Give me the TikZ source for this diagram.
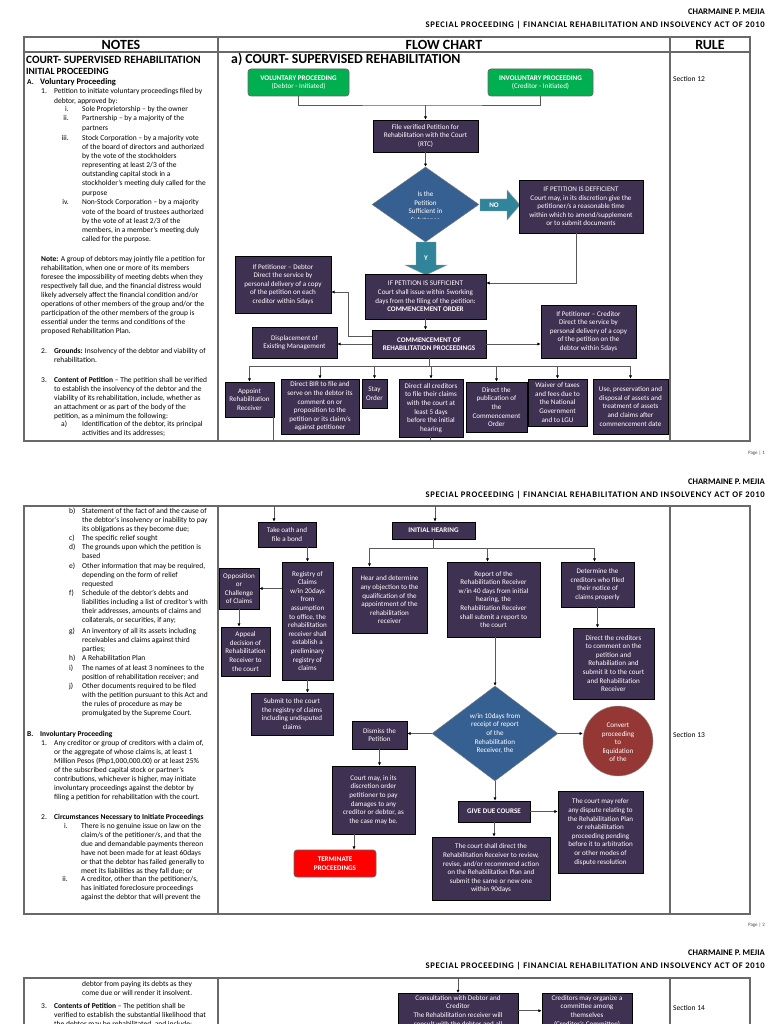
\documentclass[tikz,border=0pt]{standalone}
\usepackage{fontspec}
\setmainfont{Carlito}
\usetikzlibrary{arrows.meta,shapes.geometric}

\definecolor{boxpurple}{RGB}{63,49,81}
\definecolor{boxgreen}{RGB}{0,176,80}
\definecolor{diablue}{RGB}{55,96,146}
\definecolor{arrteal}{RGB}{49,133,155}
\definecolor{circred}{RGB}{149,55,53}
\definecolor{termred}{RGB}{255,0,0}
\definecolor{tablegray}{RGB}{105,105,105}

\newcommand{\ntf}{\fontsize{7.5}{9.1}\selectfont}
\newcommand{\bxf}{\fontsize{7.1}{8.6}\selectfont}

\tikzset{
  tline/.style={draw=tablegray, line width=1.3pt},
  pghead/.style={anchor=base east, inner sep=0pt, font=\bfseries\fontsize{8.6}{9}\selectfont},
  pgtitle/.style={pghead, font=\bfseries\fontsize{8.6}{9}\selectfont\addfontfeatures{LetterSpace=8}},
  pgnum/.style={anchor=base east, inner sep=0pt, font=\fontsize{5}{6}\selectfont, text=black!70},
  colhd/.style={inner sep=0pt, font=\bfseries\fontsize{14}{15}\selectfont},
  ntxt/.style={anchor=base west, inner sep=0pt, align=left, font=\ntf},
  nbold/.style={ntxt, font=\ntf\bfseries},
  rnum/.style={anchor=base east, inner sep=0pt, font=\ntf},
  ruletxt/.style={anchor=west, inner sep=0pt, font=\ntf},
  pbox/.style={draw=black, line width=0.7pt, fill=boxpurple, text=white,
    font=\bxf, align=center, inner sep=1pt},
  gbox/.style={pbox, fill=boxgreen, draw=black!60, rounded corners=3pt},
  rbox/.style={pbox, fill=termred, draw=black!60, rounded corners=3pt, font=\bxf\bfseries},
  dtxt/.style={text=white, font=\bxf, align=center, inner sep=0pt},
  dshape/.style={diamond, draw=black!50, fill=diablue, inner sep=0pt},
  wh/.style 2 args={minimum width=#1pt, minimum height=#2pt},
  conn/.style={draw=black!65, line width=0.9pt, -{Latex[length=3.2pt,width=3.2pt,color=black]}},
  link/.style={draw=black!65, line width=0.9pt},
}

\begin{document}
\begin{tikzpicture}[x=1pt, y=-1pt]
\useasboundingbox (0,0) rectangle (768,1024);
\fill[white] (0,0) rectangle (768,1024);

% ---------------- page 1 ----------------
\node[pghead] (au1) at (765,15) {CHARMAINE P. MEJIA};
\node[pgtitle] (ti1) at (765,28) {SPECIAL PROCEEDING | FINANCIAL REHABILITATION AND INSOLVENCY ACT OF 2010};
\node[pgnum] (pg1) at (765,454) {Page | 1};

\draw[tline] (24,37) rectangle (750,441);
\draw[tline] (24,52) -- (750,52);
\draw[tline] (218,37) -- (218,441);
\draw[tline] (670,37) -- (670,441);
\node[colhd] (hnotes) at (121,45) {NOTES};
\node[colhd] (hflow) at (444,45) {FLOW CHART};
\node[colhd] (hrule) at (710,45) {RULE};

% notes
\node[ntxt, font=\bfseries\fontsize{11.2}{12}\selectfont] (ncsr) at (26,64) {COURT- SUPERVISED REHABILITATION};
\node[ntxt, font=\bfseries\fontsize{9.5}{10}\selectfont] (nip) at (26,75) {INITIAL PROCEEDING};
\node[nbold] (nAl) at (27,85) {A.};
\node[nbold, font=\fontsize{8.5}{9}\selectfont\bfseries] (nA) at (40,85) {Voluntary Proceeding};
\node[ntxt] (n1l) at (41,94) {1.};
\node[ntxt] (n1) at (54,103.1) {Petition to initiate voluntary proceedings filed by\\debtor, approved by:};
\node[rnum] (nil) at (69,112) {i.};
\node[ntxt] (ni) at (82,112) {Sole Proprietorship -- by the owner};
\node[rnum] (niil) at (69,121) {ii.};
\node[ntxt] (nii) at (82,130.1) {Partnership -- by a majority of the\\partners};
\node[rnum] (niiil) at (69,140.5) {iii.};
\node[ntxt] (niii) at (82,195.1) {Stock Corporation -- by  a majority vote\\of the board of directors and authorized\\by the vote of the stockholders\\representing at least 2/3 of the\\outstanding capital stock in a\\stockholder's meeting duly called for the\\purpose};
\node[rnum] (nivl) at (69,205) {iv.};
\node[ntxt] (niv) at (82,241.4) {Non-Stock Corporation -- by a majority\\vote of the board of trustees authorized\\by the vote of at least 2/3 of the\\members, in a member's meeting duly\\called for the purpose.};
\node[ntxt] (nnote) at (41,333.8) {\textbf{Note:} A group of debtors may jointly file a petition for\\rehabilitation, when one or more of its members\\foresee the impossibility of meeting debts when they\\respectively fall due, and the financial distress would\\likely adversely affect the financial condition and/or\\operations of other members of the group and/or the\\participation of the other members of the group is\\essential under the terms and conditions of the\\proposed Rehabilitation Plan.};
\node[ntxt] (n2l) at (41,353) {2.};
\node[ntxt] (n2) at (54,362.1) {\textbf{Grounds:} Insolvency of the debtor and viability of\\rehabilitation.};
\node[ntxt] (n3l) at (41,382) {3.};
\node[ntxt] (n3) at (54,418.4) {\textbf{Content of Petition} -- The petition shall be verified\\to establish the insolvency of the debtor and the\\viability of its rehabilitation, include, whether as\\an attachment or as part of the body of the\\petition, as a minimum the following:};
\node[ntxt] (nal) at (61,426) {a)};
\node[ntxt] (na) at (82,435.1) {Identification of the debtor, its principal\\activities and its addresses;};

\node[ruletxt] (sec12) at (673,79) {Section 12};

% flow chart
\node[ntxt, font=\bfseries\fontsize{13.8}{14}\selectfont] (ftitle) at (231,64) {a) COURT- SUPERVISED REHABILITATION};
\node[gbox, wh={101}{27}] (vol) at (298.5,82.5) {\textbf{VOLUNTARY PROCEEDING}\\(Debtor - Initiated)};
\node[gbox, wh={105}{27}] (inv) at (540.5,82.5) {\textbf{INVOLUNTARY PROCEEDING}\\(Creditor - Initiated)};
\node[pbox, wh={105}{32}] (file) at (425.5,136) {File verified Petition for\\Rehabilitation with the Court\\(RTC)};
\node[dshape, wh={107}{75}] (dia1) at (425.5,204.5) {};
\begin{scope}
  \clip (375,184) rectangle (476,219);
  \node[dtxt] (dia1t) at (425.5,207) {Is the\\Petition\\Sufficient in\\Substance};
\end{scope}
\fill[arrteal, draw=black!40] (480,199) -- (507,199) -- (507,190) -- (520,205) -- (507,220) -- (507,211) -- (480,211) -- cycle;
\node[dtxt, font=\bxf\bfseries] (notag) at (494,205) {NO};
\node[pbox, wh={124}{53}] (defic) at (581,206.5) {IF PETITION IS DEFFICIENT\\Court may, in its discretion give the\\petitioner/s a reasonable time\\within which to amend/supplement\\or  to submit documents};
\fill[arrteal, draw=black!40] (416,242) -- (436,242) -- (436,265) -- (447,265) -- (426,275) -- (405,265) -- (416,265) -- cycle;
\node[dtxt, font=\bxf\bfseries] (ytag) at (426,258) {Y};
\node[pbox, wh={121}{45}] (suff) at (425.5,296.5) {IF PETITION IS SUFFICIENT\\Court shall issue within 5working\\days from the filing of the petition:\\\textbf{COMMENCEMENT ORDER}};
\node[pbox, wh={96}{57}] (debtor) at (283,284.5) {If Petitioner -- Debtor\\Direct the service by\\personal delivery of a copy\\of the petition on each\\creditor within 5days};
\node[pbox, wh={114}{28}, font=\bxf\bfseries] (comm) at (429,344) {COMMENCEMENT OF\\REHABILITATION PROCEEDINGS};
\node[pbox, wh={85}{31}] (displ) at (294.5,342.5) {Displacement of\\Existing Management};
\node[pbox, wh={95}{53}] (cred) at (588.5,331.5) {If Petitioner -- Creditor\\Direct the service by\\personal delivery of a copy\\of the petition on the\\debtor within 5days};

\node[pbox, wh={49}{35}] (b1) at (249.5,399.5) {Appoint\\Rehabilitation\\Receiver};
\node[pbox, wh={78}{55}] (b2) at (320,406.5) {Direct BIR to file and\\serve on the debtor its\\comment on or\\proposition to the\\petition or its claim/s\\against petitioner};
\node[pbox, wh={25}{29}] (b3) at (374.5,393.5) {Stay\\Order};
\node[pbox, wh={64}{58}] (b4) at (431,408) {Direct all creditors\\to file their claims\\with the court at\\least 5 days\\before the initial\\hearing};
\node[pbox, wh={61}{50}] (b5) at (496.5,407) {Direct the\\publication of\\the\\Commencement\\Order};
\node[pbox, wh={59}{47}] (b6) at (557.5,402.5) {Waiver of taxes\\and fees due to\\the National\\Government\\and to LGU};
\node[pbox, wh={75}{55}] (b7) at (630.5,406.5) {Use, preservation and\\disposal of assets and\\treatment of assets\\and claims after\\commencement date};

\coordinate (join1) at (425.5,105);
\draw[link] (vol.south) |- (join1) -| (inv.south);
\draw[conn] (join1) -- (file.north);
\draw[conn] (file.south) -- (dia1.north);
\draw[conn] ([xshift=-5pt]defic.south) |- ([yshift=13.5pt]suff.east);
\draw[conn] (suff.south) -- (suff.south |- comm.north);
\draw[conn] ([yshift=8pt]comm.west) -- ++(-23,0) |- ([yshift=-7.5pt]debtor.east);
\draw[conn] (comm.west) -- (comm.west -| displ.east);
\draw[conn] (comm.east) -- (comm.east -| cred.west);
\draw[link] (comm.south) -- ++(0,8) coordinate (bus1);
\draw[link] (bus1 -| b1.north) -- (bus1 -| b7.north);
\foreach \b in {b1,b2,b3,b4,b5,b6,b7}
  \draw[conn] (bus1 -| \b.north) -- (\b.north);
\coordinate (p1a) at (273,441);
\coordinate (p1b) at (430,441);
\draw[link] (p1a |- b1.south) -- (p1a);
\draw[link] (p1b |- b4.south) -- (p1b);

% ---------------- page 2 ----------------
\node[pghead] (au2) at (765,484) {CHARMAINE P. MEJIA};
\node[pgtitle] (ti2) at (765,497) {SPECIAL PROCEEDING | FINANCIAL REHABILITATION AND INSOLVENCY ACT OF 2010};
\node[pgnum] (pg2) at (765,926) {Page | 2};

\draw[tline] (24,506) rectangle (750,914);
\draw[tline] (218,506) -- (218,914);
\draw[tline] (670,506) -- (670,914);

% notes
\node[ntxt] (nbl) at (69,513) {b)};
\node[ntxt] (nb) at (82,531.2) {Statement of the fact of and the cause of\\the debtor's insolvency or inability to pay\\its obligations as they become due;};
\node[ntxt] (ncl) at (69,540.5) {c)};
\node[ntxt] (nc) at (82,540.5) {The specific relief sought};
\node[ntxt] (ndl) at (69,549.5) {d)};
\node[ntxt] (nd) at (82,558.6) {The grounds upon which the petition is\\based};
\node[ntxt] (nel) at (69,568) {e)};
\node[ntxt] (ne) at (82,586.2) {Other information that may be required,\\depending on the form of relief\\requested};
\node[ntxt] (nfl) at (69,595) {f)};
\node[ntxt] (nf) at (82,622.3) {Schedule of the debtor's debts and\\liabilities including a list of creditor's with\\their addresses, amounts of claims and\\collaterals, or securities, if any;};
\node[ntxt] (ngl) at (69,633) {g)};
\node[ntxt] (ng) at (82,651.2) {An inventory of all its assets including\\receivables and claims against third\\parties;};
\node[ntxt] (nhl) at (69,660) {h)};
\node[ntxt] (nh) at (82,660) {A Rehabilitation Plan};
\node[ntxt] (nil2) at (69,670) {i)};
\node[ntxt] (ni2) at (82,679.1) {The names of at least 3 nominees to the\\position of rehabilitation receiver; and};
\node[ntxt] (njl) at (69,688) {j)};
\node[ntxt] (nj) at (82,715.3) {Other documents required to be filed\\with the petition pursuant to this Act and\\the rules of procedure as may be\\promulgated by the Supreme Court.};
\node[nbold] (nBl) at (27,736) {B.};
\node[nbold] (nB) at (40,736) {Involuntary Proceeding};
\node[ntxt] (nB1l) at (41,745) {1.};
\node[ntxt] (nB1) at (54,799.6) {Any creditor or group of creditors with a claim of,\\or the aggregate of whose claims is, at least 1\\Million Pesos (Php1,000,000.00)  or at least 25\%\\of the subscribed capital stock or partner's\\contributions, whichever is higher, may initiate\\involuntary proceedings against the debtor by\\filing a petition for rehabilitation with the court.};
\node[ntxt] (nB2l) at (41,819) {2.};
\node[nbold] (nB2) at (54,819) {Circumstances Necessary to Initiate Proceedings};
\node[rnum] (nBil) at (68,828) {i.};
\node[ntxt] (nBi) at (81,873.5) {There is no genuine issue on law on the\\claim/s of the petitioner/s, and that the\\due and demandable payments thereon\\have not been made for at least 60days\\or that the debtor has failed generally to\\meet its liabilities as they fall due; or};
\node[rnum] (nBiil) at (68,881) {ii.};
\node[ntxt] (nBii) at (81,899.2) {A creditor, other than the petitioner/s,\\has initiated foreclosure proceedings\\against the debtor that will prevent the};

\node[ruletxt] (sec13) at (673,735) {Section 13};

% flow chart
\node[pbox, wh={58}{25}] (oath) at (287,534.5) {Take oath and\\file a bond};
\node[pbox, wh={83}{17}, font=\bxf\bfseries] (ih) at (433.5,530.5) {INITIAL HEARING};
\node[pbox, wh={51}{118}] (reg) at (307.5,621) {Registry of\\Claims\\w/in 20days\\from\\assumption\\to office, the\\rehabilitation\\receiver shall\\establish a\\preliminary\\registry of\\claims};
\node[pbox, wh={40}{41}] (opp) at (239,588.5) {Opposition\\or\\Challenge\\of Claims};
\node[pbox, wh={49}{49}] (appeal) at (245.5,651.5) {Appeal\\decision of\\Rehabilitation\\Receiver  to\\the court};
\node[pbox, wh={82}{42}] (submit) at (292,714) {Submit to the court\\the registry of claims\\including undisputed\\claims};
\node[pbox, wh={75}{66}] (hear) at (389.5,600) {Hear and determine\\any objection to the\\qualification of the\\appointment of the\\rehabilitation\\receiver};
\node[pbox, wh={93}{75}] (report) at (493.5,599.5) {Report of the\\Rehabilitation Receiver\\w/in 40 days from initial\\hearing, the\\Rehabilitation Receiver\\shall submit a report to\\the court};
\node[pbox, wh={73}{45}] (determ) at (597.5,584.5) {Determine the\\creditors who filed\\their notice of\\claims  properly};
\node[pbox, wh={81}{71}] (dircred) at (613.5,663.5) {Direct the creditors\\to comment on the\\petition and\\Rehabiliation and\\submit it to the court\\and Rehabilitation\\Receiver};
\node[dshape, wh={126}{95}] (dia2) at (495,733.5) {};
\node[dtxt] (dia2t) at (495,733.5) {w/in 10days from\\receipt of report\\of the\\Rehabilitation\\Receiver, the};
\node[pbox, wh={55}{28}] (dismiss) at (379.5,735) {Dismiss the\\Petition};
\node[circle, draw=black!40, fill=circred, inner sep=0pt, minimum size=70pt] (conv) at (618,741) {};
\begin{scope}
  \clip (583,706) rectangle (653,760);
  \node[dtxt] (convt) at (618,742.5) {Convert\\proceeding\\to\\liquidation\\of the};
\end{scope}
\node[pbox, wh={83}{68}] (courtmay) at (373.5,800) {Court may, in its\\discretion order\\petitioner to pay\\damages to any\\creditor or debtor, as\\the case may be.};
\node[rbox, wh={82}{27}] (term) at (335,863.5) {TERMINATE\\PROCEEDINGS};
\node[pbox, wh={72}{21}, font=\bxf\bfseries] (gdc) at (494,811.5) {GIVE DUE COURSE};
\node[pbox, wh={85}{82}] (refer) at (600.5,832) {The court may refer\\any dispute relating to\\the Rehabilitation Plan\\or rehabilitation\\proceeding pending\\before it to arbitration\\or other modes of\\dispute resolution};
\node[pbox, wh={118}{63}] (shall) at (491,868.5) {The court shall direct the\\Rehabilitation Receiver to review,\\revise, and/or recommend action\\on the Rehabilitation Plan and\\submit the same or new one\\within 90days};

\coordinate (p2a) at (274,506);
\coordinate (p2b) at (435,506);
\draw[conn] (p2a) -- (p2a |- oath.north);
\draw[conn] (p2b) -- (p2b |- ih.north);
\draw[conn] (reg.north |- oath.south) -- (reg.north);
\draw[conn] (reg.west |- opp.east) -- (opp.east);
\draw[conn] (opp.south) -- (opp.south |- appeal.north);
\draw[conn] (reg.south) -- (reg.south |- submit.north);
\draw[link] (ih.south) -- ++(0,9.5) coordinate (bus2);
\draw[conn] (bus2) -| ([xshift=-20pt]hear.north);
\draw[conn] (bus2) -| ([xshift=-6pt]report.north);
\draw[conn] (bus2) -| ([xshift=-3pt]determ.north);
\draw[conn] (determ.south) -- (determ.south |- dircred.north);
\draw[conn] (dia2.north |- report.south) -- (dia2.north);
\draw[conn] (dia2.west) -- (dia2.west -| dismiss.east);
\draw[conn] (dia2.east) -- (conv.west |- dia2.east);
\draw[conn] (dismiss.south) -- (dismiss.south |- courtmay.north);
\draw[conn] ([xshift=-19.5pt]courtmay.south) -- ([xshift=-19.5pt]courtmay.south |- term.north);
\draw[conn] (dia2.south) -- (dia2.south |- gdc.north);
\draw[conn] (gdc.east) -- (gdc.east -| refer.west);
\draw[conn] (gdc.south) -- (gdc.south |- shall.north);

% ---------------- page 3 ----------------
\node[pghead] (au3) at (765,955.5) {CHARMAINE P. MEJIA};
\node[pgtitle] (ti3) at (765,968.5) {SPECIAL PROCEEDING | FINANCIAL REHABILITATION AND INSOLVENCY ACT OF 2010};

\draw[tline] (24,1030) -- (24,978) -- (750,978) -- (750,1030);
\draw[tline] (218,978) -- (218,1030);
\draw[tline] (670,978) -- (670,1030);

\node[ntxt] (np3) at (82,995.1) {debtor from paying its debts as they\\come due or will render it insolvent.};
\node[ntxt] (nC3l) at (41,1008) {3.};
\node[ntxt] (nC3) at (54,1026.2) {\textbf{Contents of Petition} -- The petition shall be\\verified to establish the substantial likelihood that\\the debtor may be rehabilitated, and include:};

\node[ruletxt] (sec14) at (673,1008) {Section 14};

\node[pbox, anchor=north, minimum width=120pt, inner sep=2pt] (consult) at (458,993) {Consultation with Debtor and\\Creditor\\The Rehabilitation receiver will\\consult with the debtor and all};
\node[pbox, anchor=north, minimum width=90pt, inner sep=2pt] (credc) at (587,993) {Creditors may organize a\\committee among\\themselves\\(Creditor's Committee)};
\coordinate (p3a) at (458,978);
\draw[conn] (p3a) -- (consult.north);
\draw[conn] (consult.east) -- (consult.east -| credc.west);
\end{tikzpicture}
\end{document}
